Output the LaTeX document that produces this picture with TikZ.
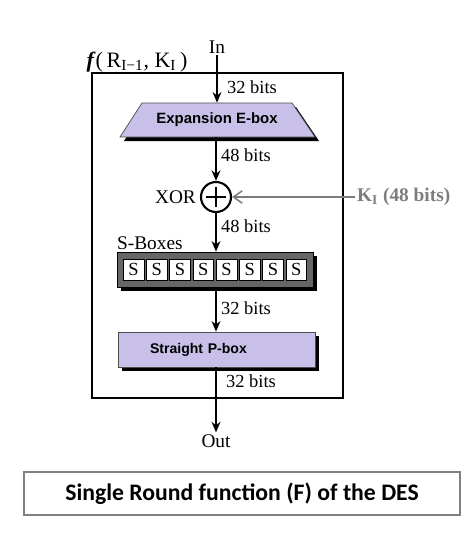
\documentclass[tikz,border=0pt]{standalone}
\usepackage{fontspec}
\setmainfont{Liberation Serif}
\setsansfont{Liberation Sans}
\newfontfamily\capfont{Carlito}
\usetikzlibrary{arrows.meta,shadows}
\definecolor{boxlav}{RGB}{200,192,232}
\definecolor{keygray}{RGB}{125,125,125}
\definecolor{sgray}{RGB}{102,102,102}

\begin{document}
\begin{tikzpicture}[
  x=0.02cm, y=-0.02cm,
  >={Stealth[length=6pt,width=5pt]},
  lbl/.style={font=\fontsize{10.5}{12}\selectfont, inner sep=1pt},
  shad/.style={general shadow={fill=black, shadow xshift=2.2pt, shadow yshift=-2.2pt}},
  ebox/.style={minimum width=3.9cm, minimum height=0.68cm, font=\sffamily\bfseries\fontsize{8.5}{10}\selectfont},
  pbox/.style={rectangle, draw=black!70, fill=boxlav, minimum width=3.94cm, minimum height=0.7cm,
    inner xsep=0.64cm, text width=2.66cm, align=left, shad, font=\sffamily\bfseries\fontsize{8}{10}\selectfont},
  sbank/.style={rectangle, draw=black, fill=sgray, minimum width=3.92cm, minimum height=0.7cm, shad},
  sbit/.style={rectangle, draw=black, fill=white, minimum size=0.42cm, inner sep=0pt,
    font=\fontsize{10.5}{12}\selectfont},
  xorc/.style={circle, draw, line width=1.2pt, minimum size=0.6cm, inner sep=0pt},
  arr/.style={->, line width=1pt}
]
  \useasboundingbox (0,0) rectangle (474,535);

  % outer frame of f
  \draw[line width=1.5pt] (92,73) rectangle (343,398);
  \node[lbl, font=\fontsize{12.5}{14}\selectfont] (flbl) at (137,62)
    {\textbf{\textit{f}}(\,R\textsubscript{I−1}, K\textsubscript{I}\,)};

  \node[lbl, font=\fontsize{11}{12}\selectfont] (in) at (217,47) {In};

  % expansion box (trapezoid with shadow)
  \fill[black] (146,107) -- (296,107) -- (319,141) -- (124,141) -- cycle;
  \draw[draw=black!70, fill=boxlav] (142,103) -- (292,103) -- (315,137) -- (120,137) -- cycle;
  \node[ebox] (ebox) at (217,120) {Expansion E-box};

  \node[xorc] (xor) at (216,197) {};
  \node[lbl, font=\fontsize{11}{12}\selectfont, anchor=east] (xlbl) at (198,197) {XOR};
  \node[lbl, anchor=west, text=keygray, font=\bfseries\fontsize{11}{12}\selectfont] (key) at (355,197)
    {K\textsubscript{I} (48 bits)};
  \node[sbank] (sbank) at (215,269.5) {};
  \foreach \i in {0,...,7}
    \node[sbit] (s\i) at (133.6+\i*23.25,269.5) {S};
  \node[lbl, font=\fontsize{11}{12}\selectfont, anchor=west] (slbl) at (115,243) {S-Boxes};
  \node[pbox] (pbox) at (216.5,349.5) {Straight P-box};
  \node[lbl, font=\fontsize{11}{12}\selectfont] (out) at (216,441) {Out};

  % plus inside xor
  \draw[line width=1.5pt] ([yshift=-5.5pt]xor.center) -- ([yshift=5.5pt]xor.center);
  \draw[line width=1.5pt] ([xshift=-5.5pt]xor.center) -- ([xshift=5.5pt]xor.center);

  % data path
  \draw[arr] (in) -- (ebox.north -| in);
  \draw[arr] (ebox.south -| xor) -- (xor);
  \draw[arr] (xor) -- (sbank.north -| xor);
  \draw[arr] (sbank.south -| xor) -- (pbox.north -| xor);
  \draw[arr] (pbox.south -| xor) -- (out);
  \draw[-{Straight Barb[length=5pt,width=7pt]}, line width=0.9pt, draw=keygray] (key.west) -- (xor.east);

  % bit widths
  \node[lbl, anchor=west] (b1) at (225,87) {32 bits};
  \node[lbl, anchor=west] (b2) at (219,155) {48 bits};
  \node[lbl, anchor=west] (b3) at (219,226) {48 bits};
  \node[lbl, anchor=west] (b4) at (219,308) {32 bits};
  \node[lbl, anchor=west] (b5) at (224,381) {32 bits};

  % caption
  \node[draw=black!50, line width=0.8pt, minimum width=8.72cm, minimum height=0.86cm,
    font=\capfont\bfseries\fontsize{13.5}{15}\selectfont] (cap) at (242,493.5)
    {Single Round function (F) of the DES};
\end{tikzpicture}
\end{document}
